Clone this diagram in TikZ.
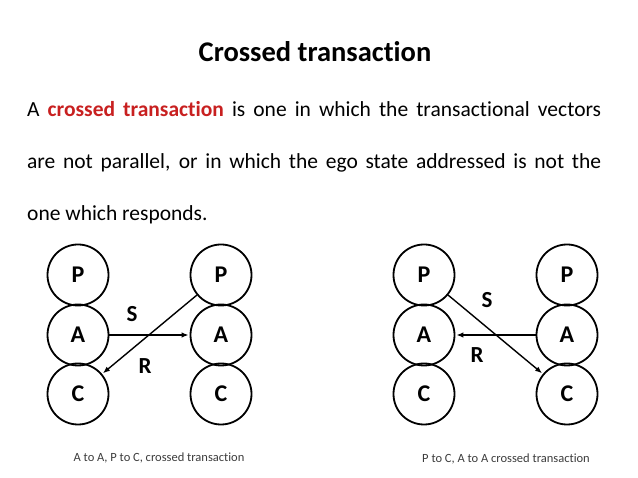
\documentclass[tikz,border=0pt]{standalone}
\usepackage{fontspec}
\setmainfont{Carlito}[Ligatures=NoCommon]
\usetikzlibrary{arrows.meta}
\definecolor{crossred}{RGB}{200, 32, 32}
\definecolor{capgray}{RGB}{60, 60, 60}

\begin{document}
\begin{tikzpicture}[x=1pt, y=-1pt,
		ego/.style={draw, circle, line width=1.8pt, minimum size=61pt, inner sep=0pt, font=\fontsize{24}{28}\selectfont\bfseries},
		vec/.style={-{Latex[length=7pt, width=5.5pt]}, line width=1.4pt, shorten >=1pt},
		lbl/.style={font=\fontsize{23}{27}\selectfont\bfseries},
		body/.style={anchor=base west, inner sep=0pt, font=\fontsize{21.5}{26}\selectfont},
		capt/.style={font=\fontsize{12.5}{15}\selectfont, text=capgray}]

			\useasboundingbox (0,0) rectangle (638,478);

			% Title and text
			\node[font=\fontsize{28.5}{34}\selectfont\bfseries] (title) at (315,52) {Crossed transaction};
			\node[body] (lineA) at (27,117) {\makebox[574pt][s]{A \textcolor{crossred}{\textbf{crossed transaction}} is one in which the transactional vectors}};
			\node[body] (lineB) at (27,169) {\makebox[574pt][s]{are not parallel, or in which the ego state addressed is not the}};
			\node[body] (lineC) at (27,221) {one which responds.};

			% Left diagram: A to A, P to C
			\node[ego] (lP1) at (78,275) {P};
			\node[ego] (lA1) at (78,335) {A};
			\node[ego] (lC1) at (78,394) {C};
			\node[ego] (lP2) at (221,275) {P};
			\node[ego] (lA2) at (221,335) {A};
			\node[ego] (lC2) at (221,394) {C};

			\draw[vec] (lA1) -- (lA2);
			\draw[vec] (lP2) -- (lC1);

			\node[lbl] (lS) at (132,314) {S};
			\node[lbl] (lR) at (145,366) {R};

			% Right diagram: P to C, A to A
			\node[ego] (rP1) at (424,275) {P};
			\node[ego] (rA1) at (424,335) {A};
			\node[ego] (rC1) at (424,394) {C};
			\node[ego] (rP2) at (567,275) {P};
			\node[ego] (rA2) at (567,335) {A};
			\node[ego] (rC2) at (567,394) {C};

			\draw[vec] (rP1) -- (rC2);
			\draw[vec] (rA2) -- (rA1);

			\node[lbl] (rS) at (487,300) {S};
			\node[lbl] (rR) at (477,355) {R};

			% Captions
			\node[capt] (lcap) at (159,458) {A to A, P to C, crossed transaction};
			\node[capt] (rcap) at (506,459) {P to C, A to A crossed transaction};

		\end{tikzpicture}
\end{document}
